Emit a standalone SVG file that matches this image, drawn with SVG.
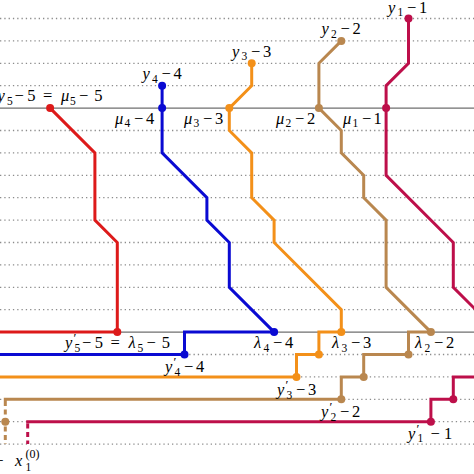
<svg xmlns="http://www.w3.org/2000/svg" width="474" height="474" viewBox="0 0 474 474" font-family="'Liberation Serif', serif">
<style>
.g{stroke:#8c8c8c;stroke-width:1.3;stroke-dasharray:1.3 3;fill:none}
.ax{stroke:#4a4a4a;stroke-width:1;fill:none}
.ln{fill:none;stroke-width:3;stroke-linejoin:miter}
.ds{fill:none;stroke-width:3;stroke-dasharray:5 3.5}
.r{stroke:#dd1a1a}.b{stroke:#0a0ad2}.o{stroke:#f39019}.br{stroke:#b9874f}.c{stroke:#bd0f4a}
.fr{fill:#dd1a1a}.fb{fill:#0a0ad2}.fo{fill:#f39019}.fbr{fill:#b9874f}.fc{fill:#bd0f4a}
text{font-family:"Liberation Serif","DejaVu Serif",serif;font-size:16.5px;fill:#000}
.i{font-style:italic}
.s{font-size:11.5px}
.p{font-size:13px}
</style>
<g id="grid">
<line class="g" x1="0" y1="18.5" x2="474" y2="18.5"/>
<line class="g" x1="0" y1="40.9" x2="474" y2="40.9"/>
<line class="g" x1="0" y1="63.3" x2="474" y2="63.3"/>
<line class="g" x1="0" y1="85.7" x2="474" y2="85.7"/>
<line class="ax" x1="0" y1="108.1" x2="474" y2="108.1"/>
<line class="g" x1="0" y1="130.5" x2="474" y2="130.5"/>
<line class="g" x1="0" y1="152.9" x2="474" y2="152.9"/>
<line class="g" x1="0" y1="175.3" x2="474" y2="175.3"/>
<line class="g" x1="0" y1="197.7" x2="474" y2="197.7"/>
<line class="g" x1="0" y1="220.1" x2="474" y2="220.1"/>
<line class="g" x1="0" y1="242.5" x2="474" y2="242.5"/>
<line class="g" x1="0" y1="264.9" x2="474" y2="264.9"/>
<line class="g" x1="0" y1="287.3" x2="474" y2="287.3"/>
<line class="g" x1="0" y1="309.7" x2="474" y2="309.7"/>
<line class="ax" x1="0" y1="332.1" x2="474" y2="332.1"/>
<line class="g" x1="0" y1="354.5" x2="474" y2="354.5"/>
<line class="g" x1="0" y1="376.9" x2="474" y2="376.9"/>
<line class="g" x1="0" y1="399.3" x2="474" y2="399.3"/>
<line class="g" x1="0" y1="421.7" x2="474" y2="421.7"/>
<line class="g" x1="0" y1="444.1" x2="474" y2="444.1"/>
</g>
<g id="connectors">
<path class="ln r" d="M50.1,108.1 L94.9,152.9 L94.9,220.1 L117.3,242.5 L117.3,332.1 L-5,332.1"/>
<path class="ln b" d="M162.1,85.7 L162.1,152.9 L206.9,197.7 L206.9,220.1 L229.3,242.5 L229.3,287.3 L274.1,332.1 L184.5,332.1 L184.5,354.5 L-5,354.5"/>
<path class="ln o" d="M251.7,63.3 L251.7,85.7 L229.3,108.1 L229.3,130.5 L251.7,152.9 L251.7,197.7 L274.1,220.1 L274.1,242.5 L341.3,309.7 L341.3,332.1 L318.9,332.1 L318.9,354.5 L296.5,354.5 L296.5,376.9 L-5,376.9"/>
<path class="ln br" d="M341.3,40.9 L318.9,63.3 L318.9,108.1 L341.3,130.5 L341.3,152.9 L363.7,175.3 L363.7,197.7 L386.1,220.1 L386.1,287.3 L430.9,332.1 L408.5,332.1 L408.5,354.5 L363.7,354.5 L363.7,376.9 L341.3,376.9 L341.3,399.3 L5.3,399.3 L5.3,401"/>
<path class="ds br" d="M5.3,401 L5.3,444.1"/>
<path class="ln c" d="M408.5,18.5 L408.5,63.3 L386.1,85.7 L386.1,175.3 L453.3,242.5 L453.3,287.3 L475.7,309.7 L475.7,376.9 L453.3,376.9 L453.3,399.3 L430.9,399.3 L430.9,421.7 L27.7,421.7 L27.7,423.5"/>
<path class="ds c" d="M27.7,423.5 L27.7,444.1"/>
</g>
<g id="n-y5"><circle class="fr" cx="50.1" cy="108.1" r="4"/>
<text y="101"><tspan class="i" x="-2.5">y</tspan><tspan class="s" x="7" y="104.5">5</tspan><tspan x="14.5" y="101">−</tspan><tspan x="27.3">5</tspan><tspan x="43">=</tspan><tspan class="i" x="61">μ</tspan><tspan class="s" x="70" y="104.5">5</tspan><tspan x="79" y="101">−</tspan><tspan x="94.3">5</tspan></text></g>
<g id="n-y4"><circle class="fb" cx="162.1" cy="85.7" r="4"/>
<text y="79"><tspan class="i" x="142.5">y</tspan><tspan class="s" x="152" y="82.5">4</tspan><tspan x="161.5" y="79">−</tspan><tspan x="173.5">4</tspan></text></g>
<g id="n-mu4"><circle class="fb" cx="162.1" cy="108.1" r="4"/>
<text y="123.5"><tspan class="i" x="115">μ</tspan><tspan class="s" x="124.5" y="127">4</tspan><tspan x="134" y="123.5">−</tspan><tspan x="146">4</tspan></text></g>
<g id="n-y3"><circle class="fo" cx="251.7" cy="63.3" r="4"/>
<text y="56.5"><tspan class="i" x="232">y</tspan><tspan class="s" x="241.5" y="60">3</tspan><tspan x="251" y="56.5">−</tspan><tspan x="263">3</tspan></text></g>
<g id="n-mu3"><circle class="fo" cx="229.3" cy="108.1" r="4"/>
<text y="123.5"><tspan class="i" x="184">μ</tspan><tspan class="s" x="193.5" y="127">3</tspan><tspan x="203" y="123.5">−</tspan><tspan x="215">3</tspan></text></g>
<g id="n-y2"><circle class="fbr" cx="341.3" cy="40.9" r="4"/>
<text y="34"><tspan class="i" x="321.5">y</tspan><tspan class="s" x="331" y="37.5">2</tspan><tspan x="340.5" y="34">−</tspan><tspan x="352.5">2</tspan></text></g>
<g id="n-mu2"><circle class="fbr" cx="318.9" cy="108.1" r="4"/>
<text y="123.5"><tspan class="i" x="276">μ</tspan><tspan class="s" x="285.5" y="127">2</tspan><tspan x="295" y="123.5">−</tspan><tspan x="307">2</tspan></text></g>
<g id="n-y1"><circle class="fc" cx="408.5" cy="18.5" r="4"/>
<text y="12.5"><tspan class="i" x="388">y</tspan><tspan class="s" x="397.5" y="16">1</tspan><tspan x="407" y="12.5">−</tspan><tspan x="419">1</tspan></text></g>
<g id="n-mu1"><circle class="fc" cx="386.1" cy="108.1" r="4"/>
<text y="123.5"><tspan class="i" x="343">μ</tspan><tspan class="s" x="352.5" y="127">1</tspan><tspan x="362" y="123.5">−</tspan><tspan x="373.5">1</tspan></text></g>
<g id="n-l5"><circle class="fr" cx="117.3" cy="332.1" r="4"/>
<text y="348"><tspan class="i" x="65">y</tspan><tspan class="p" x="73.5" y="342">′</tspan><tspan class="s" x="74.5" y="351.5">5</tspan><tspan x="82" y="348">−</tspan><tspan x="94.8">5</tspan><tspan x="110.5">=</tspan><tspan class="i" x="128.5">λ</tspan><tspan class="s" x="137.5" y="351.5">5</tspan><tspan x="146.5" y="348">−</tspan><tspan x="161.8">5</tspan></text></g>
<g id="n-l4"><circle class="fb" cx="274.1" cy="332.1" r="4"/>
<text y="348"><tspan class="i" x="254">λ</tspan><tspan class="s" x="263.5" y="351.5">4</tspan><tspan x="273" y="348">−</tspan><tspan x="285">4</tspan></text></g>
<g id="n-yp4"><circle class="fb" cx="184.5" cy="354.5" r="4"/>
<text y="372"><tspan class="i" x="165">y</tspan><tspan class="p" x="173.5" y="366">′</tspan><tspan class="s" x="174.5" y="375.5">4</tspan><tspan x="184" y="372">−</tspan><tspan x="196">4</tspan></text></g>
<g id="n-l3"><circle class="fo" cx="341.3" cy="332.1" r="4"/>
<text y="348"><tspan class="i" x="332">λ</tspan><tspan class="s" x="341.5" y="351.5">3</tspan><tspan x="351" y="348">−</tspan><tspan x="363">3</tspan></text></g>
<g id="n-o15"><circle class="fo" cx="318.9" cy="354.5" r="4"/></g>
<g id="n-yp3"><circle class="fo" cx="296.5" cy="376.9" r="4"/>
<text y="395"><tspan class="i" x="277">y</tspan><tspan class="p" x="285.5" y="389">′</tspan><tspan class="s" x="286.5" y="398.5">3</tspan><tspan x="296" y="395">−</tspan><tspan x="308">3</tspan></text></g>
<g id="n-l2"><circle class="fbr" cx="430.9" cy="332.1" r="4"/>
<text y="348"><tspan class="i" x="415">λ</tspan><tspan class="s" x="424.5" y="351.5">2</tspan><tspan x="434" y="348">−</tspan><tspan x="446">2</tspan></text></g>
<g id="n-br15"><circle class="fbr" cx="408.5" cy="354.5" r="4"/></g>
<g id="n-br16"><circle class="fbr" cx="363.7" cy="376.9" r="4"/></g>
<g id="n-yp2"><circle class="fbr" cx="341.3" cy="399.3" r="4"/>
<text y="417"><tspan class="i" x="321">y</tspan><tspan class="p" x="329.5" y="411">′</tspan><tspan class="s" x="330.5" y="420.5">2</tspan><tspan x="340" y="417">−</tspan><tspan x="352">2</tspan></text></g>
<g id="n-br18"><circle class="fbr" cx="5.3" cy="421.7" r="4"/></g>
<g id="n-c17"><circle class="fc" cx="453.3" cy="399.3" r="4"/></g>
<g id="n-yp1"><circle class="fc" cx="430.9" cy="421.7" r="4"/>
<text y="438.5"><tspan class="i" x="408">y</tspan><tspan class="p" x="416.5" y="432.5">′</tspan><tspan class="s" x="417.5" y="442">1</tspan><tspan x="430.5" y="438.5">−</tspan><tspan x="444">1</tspan></text></g>
<g id="n-x1">
<text y="466"><tspan class="i" x="15">x</tspan><tspan class="s" x="25.5" y="470.5">1</tspan><tspan class="s" x="25.5" y="457.5" style="font-size:12px">(0)</tspan></text>
<text x="3.5" y="465.5" text-anchor="end">−</text>
</g>
</svg>
